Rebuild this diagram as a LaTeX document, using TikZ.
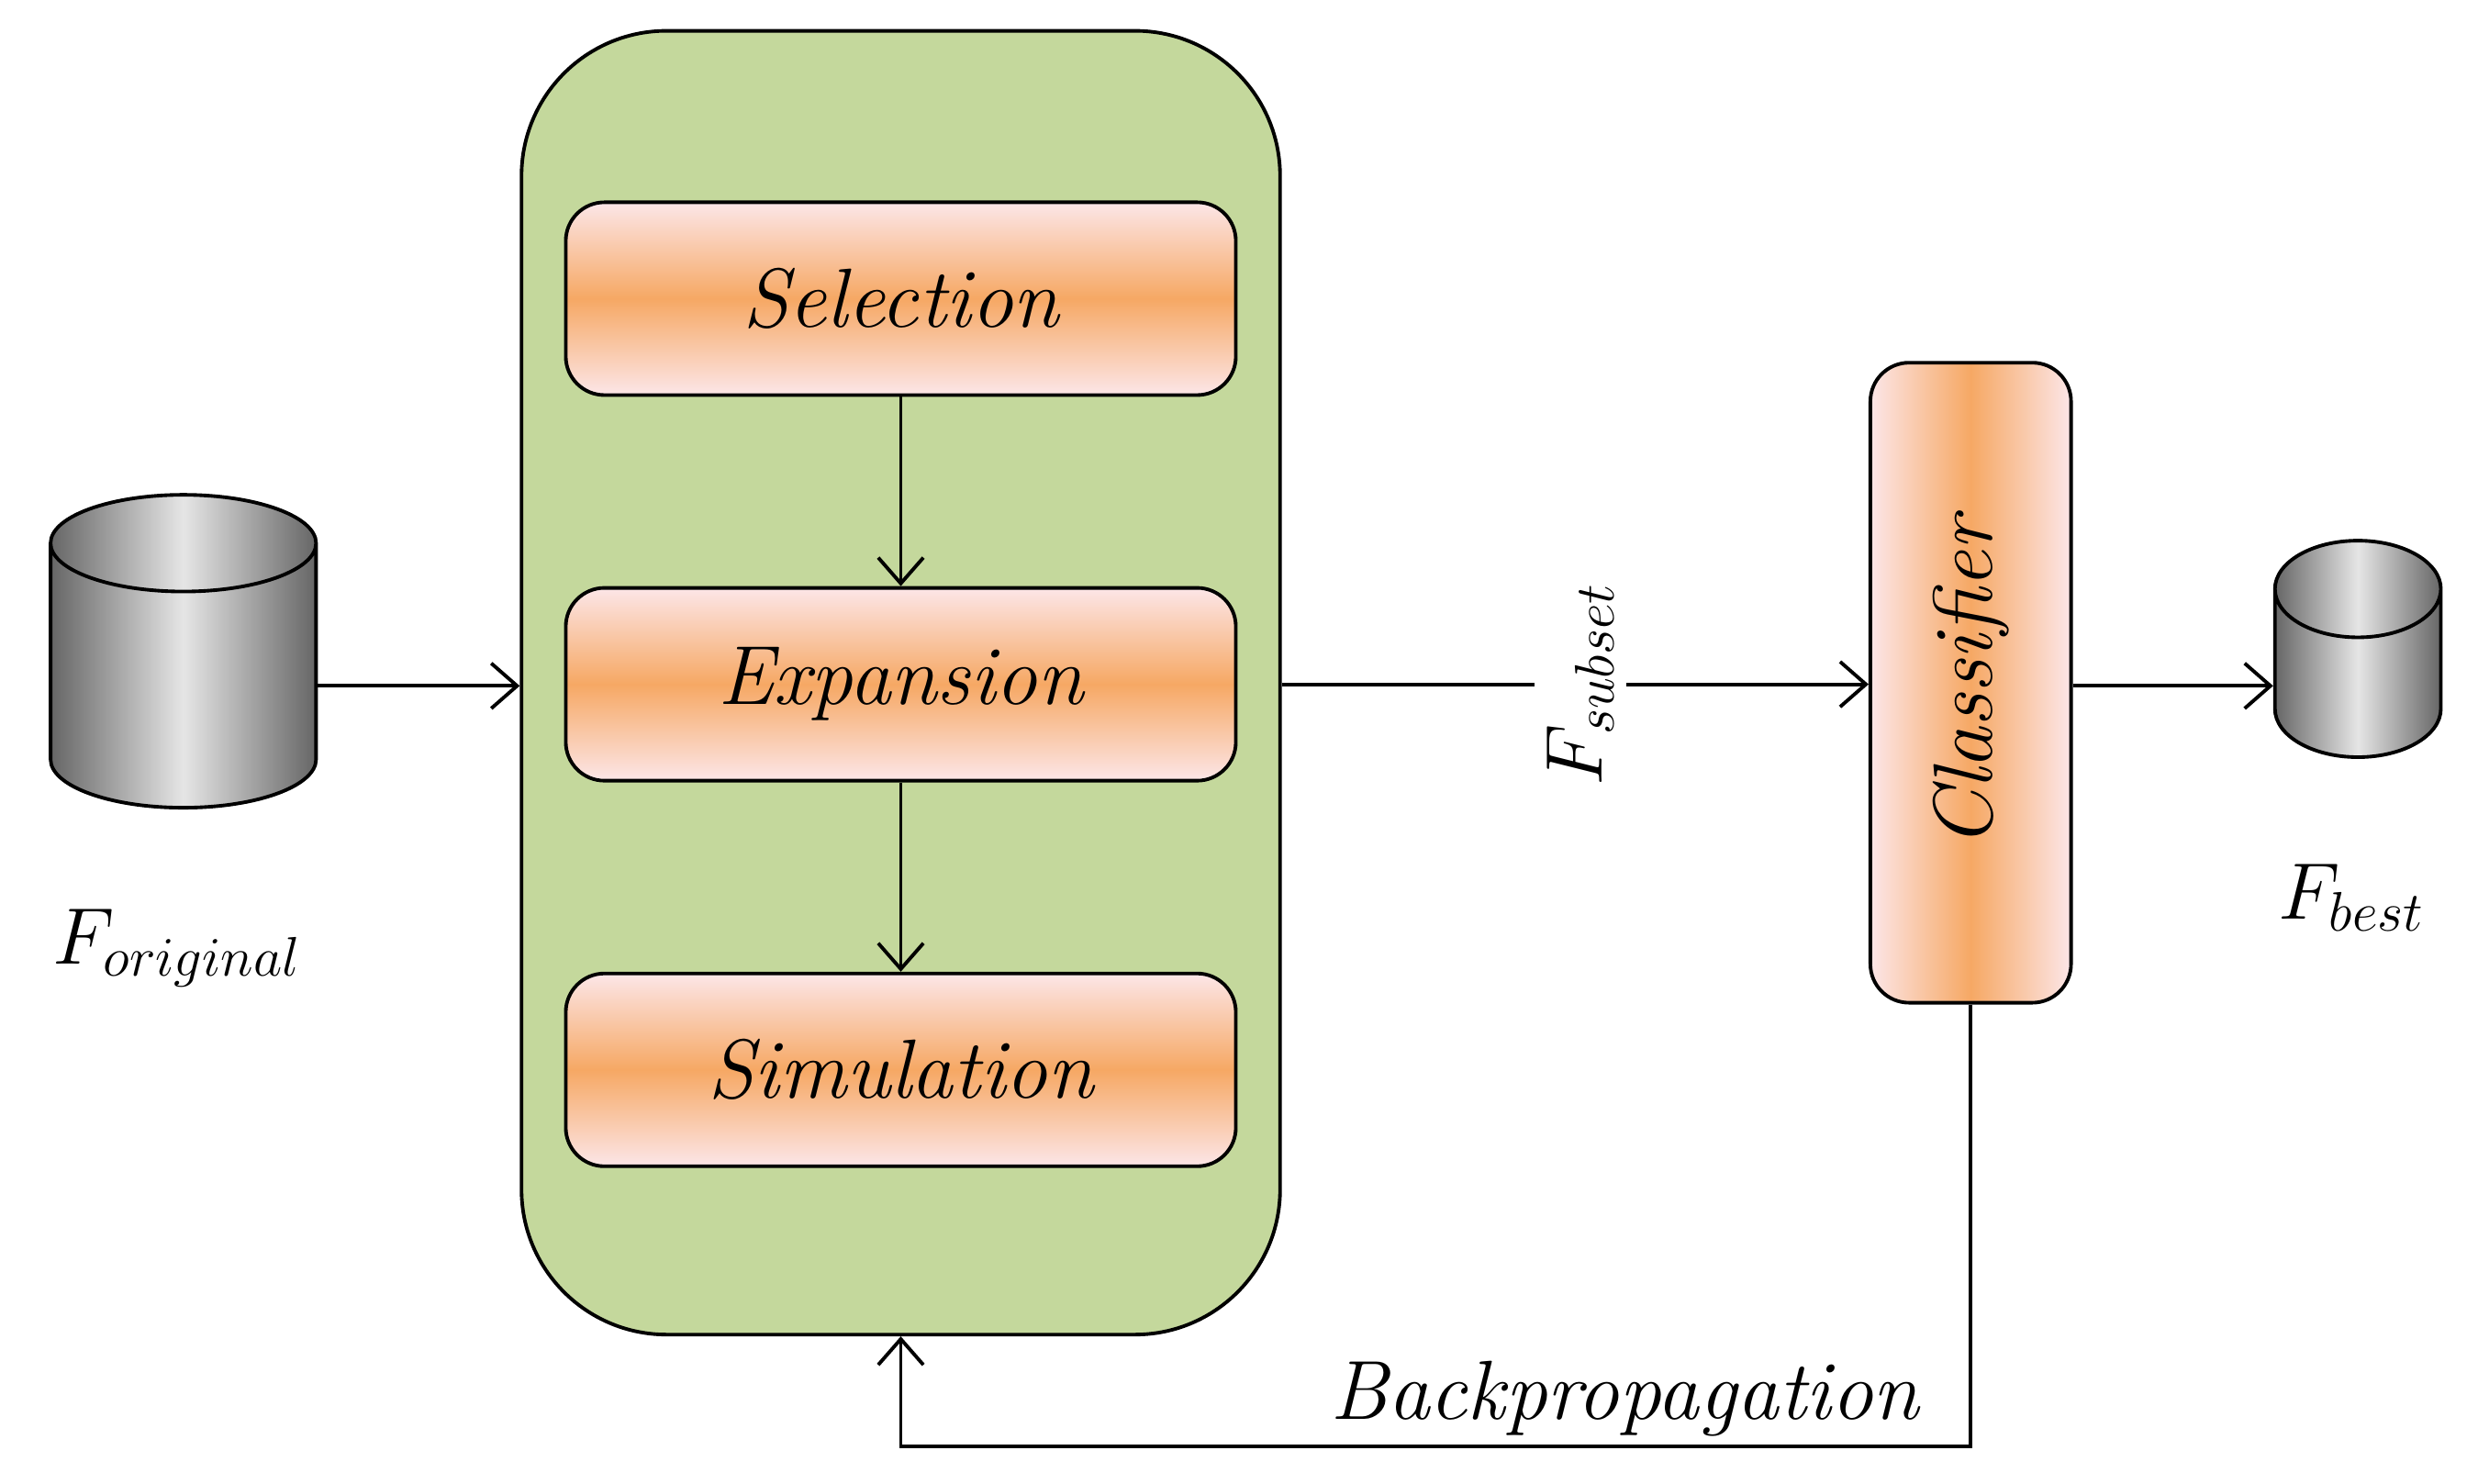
\documentclass[tikz,border=0pt]{standalone}
\usepackage{amsmath}
\usetikzlibrary{shapes.geometric,arrows.meta,positioning}
\definecolor{boxgreen}{RGB}{196,216,156}
\definecolor{orng}{RGB}{246,168,100}
\definecolor{pinkl}{RGB}{252,230,232}
\begin{document}
\begin{tikzpicture}[x=0.01722cm,y=-0.01722cm, line width=1.1pt,
  txt/.style={font=\fontsize{26}{30}\selectfont\itshape},
  stepbox/.style={draw=black, rounded corners=12pt, minimum width=424*0.01722cm,
    minimum height=122*0.01722cm, top color=pinkl, bottom color=pinkl, middle color=orng, txt},
  db/.style={cylinder, shape border rotate=90, draw=black, aspect=4.5,
    left color=black!60, right color=black!60, middle color=black!10},
  arr/.style={draw, -{Straight Barb[length=8pt,width=14pt]}},
  ln/.style={draw}]
  \useasboundingbox (0,0) rectangle (1568,939);
  % main block
  \node[draw=black, fill=boxgreen, rounded corners=45pt, minimum width=480*0.01722cm,
    minimum height=825*0.01722cm] (mcts) at (570,432) {};
  \node[stepbox] (sel) at (570,189) {Selection};
  \node[stepbox] (exp) at (570,433) {Expansion};
  \node[stepbox] (sim) at (570,677) {Simulation};
  % data stores
  \node[db, minimum width=168*0.01722cm, minimum height=198*0.01722cm] (orig) at (116,434) {};
  \node[txt] (lorig) at (112,600) {$F_{original}$};
  \node[db, minimum width=105*0.01722cm, minimum height=137*0.01722cm] (best) at (1492,434) {};
  \node[txt] (lbest) at (1488,568) {$F_{best}$};
  % classifier
  \node[draw=black, rounded corners=12pt, minimum width=127*0.01722cm,
    minimum height=405*0.01722cm, left color=pinkl, right color=pinkl, middle color=orng] (cls) at (1247,432) {};
  \node[txt, rotate=90] at (cls.center) {Classifier};
  \node[txt, rotate=90] (lsub) at (1000,433) {$F_{subset}$};
  \coordinate (c1) at (1247,915);
  \coordinate (c2) at (570,915);
  \node[txt] (lback) at (1028,885) {Backpropagation};
  % connectors
  \draw[arr] (sel) -- (exp);
  \draw[arr] (exp) -- (sim);
  \draw[arr] (orig.east) -- (mcts.west |- orig.east);
  \draw[ln] (mcts.east |- exp) -- (lsub.north);
  \draw[arr] (lsub.south) -- (cls.west |- lsub);
  \draw[arr] (cls.east |- best) -- (best.west);
  \draw[arr] (cls.south) -- (c1) -- (c2) -- (mcts.south);
\end{tikzpicture}
\end{document}
